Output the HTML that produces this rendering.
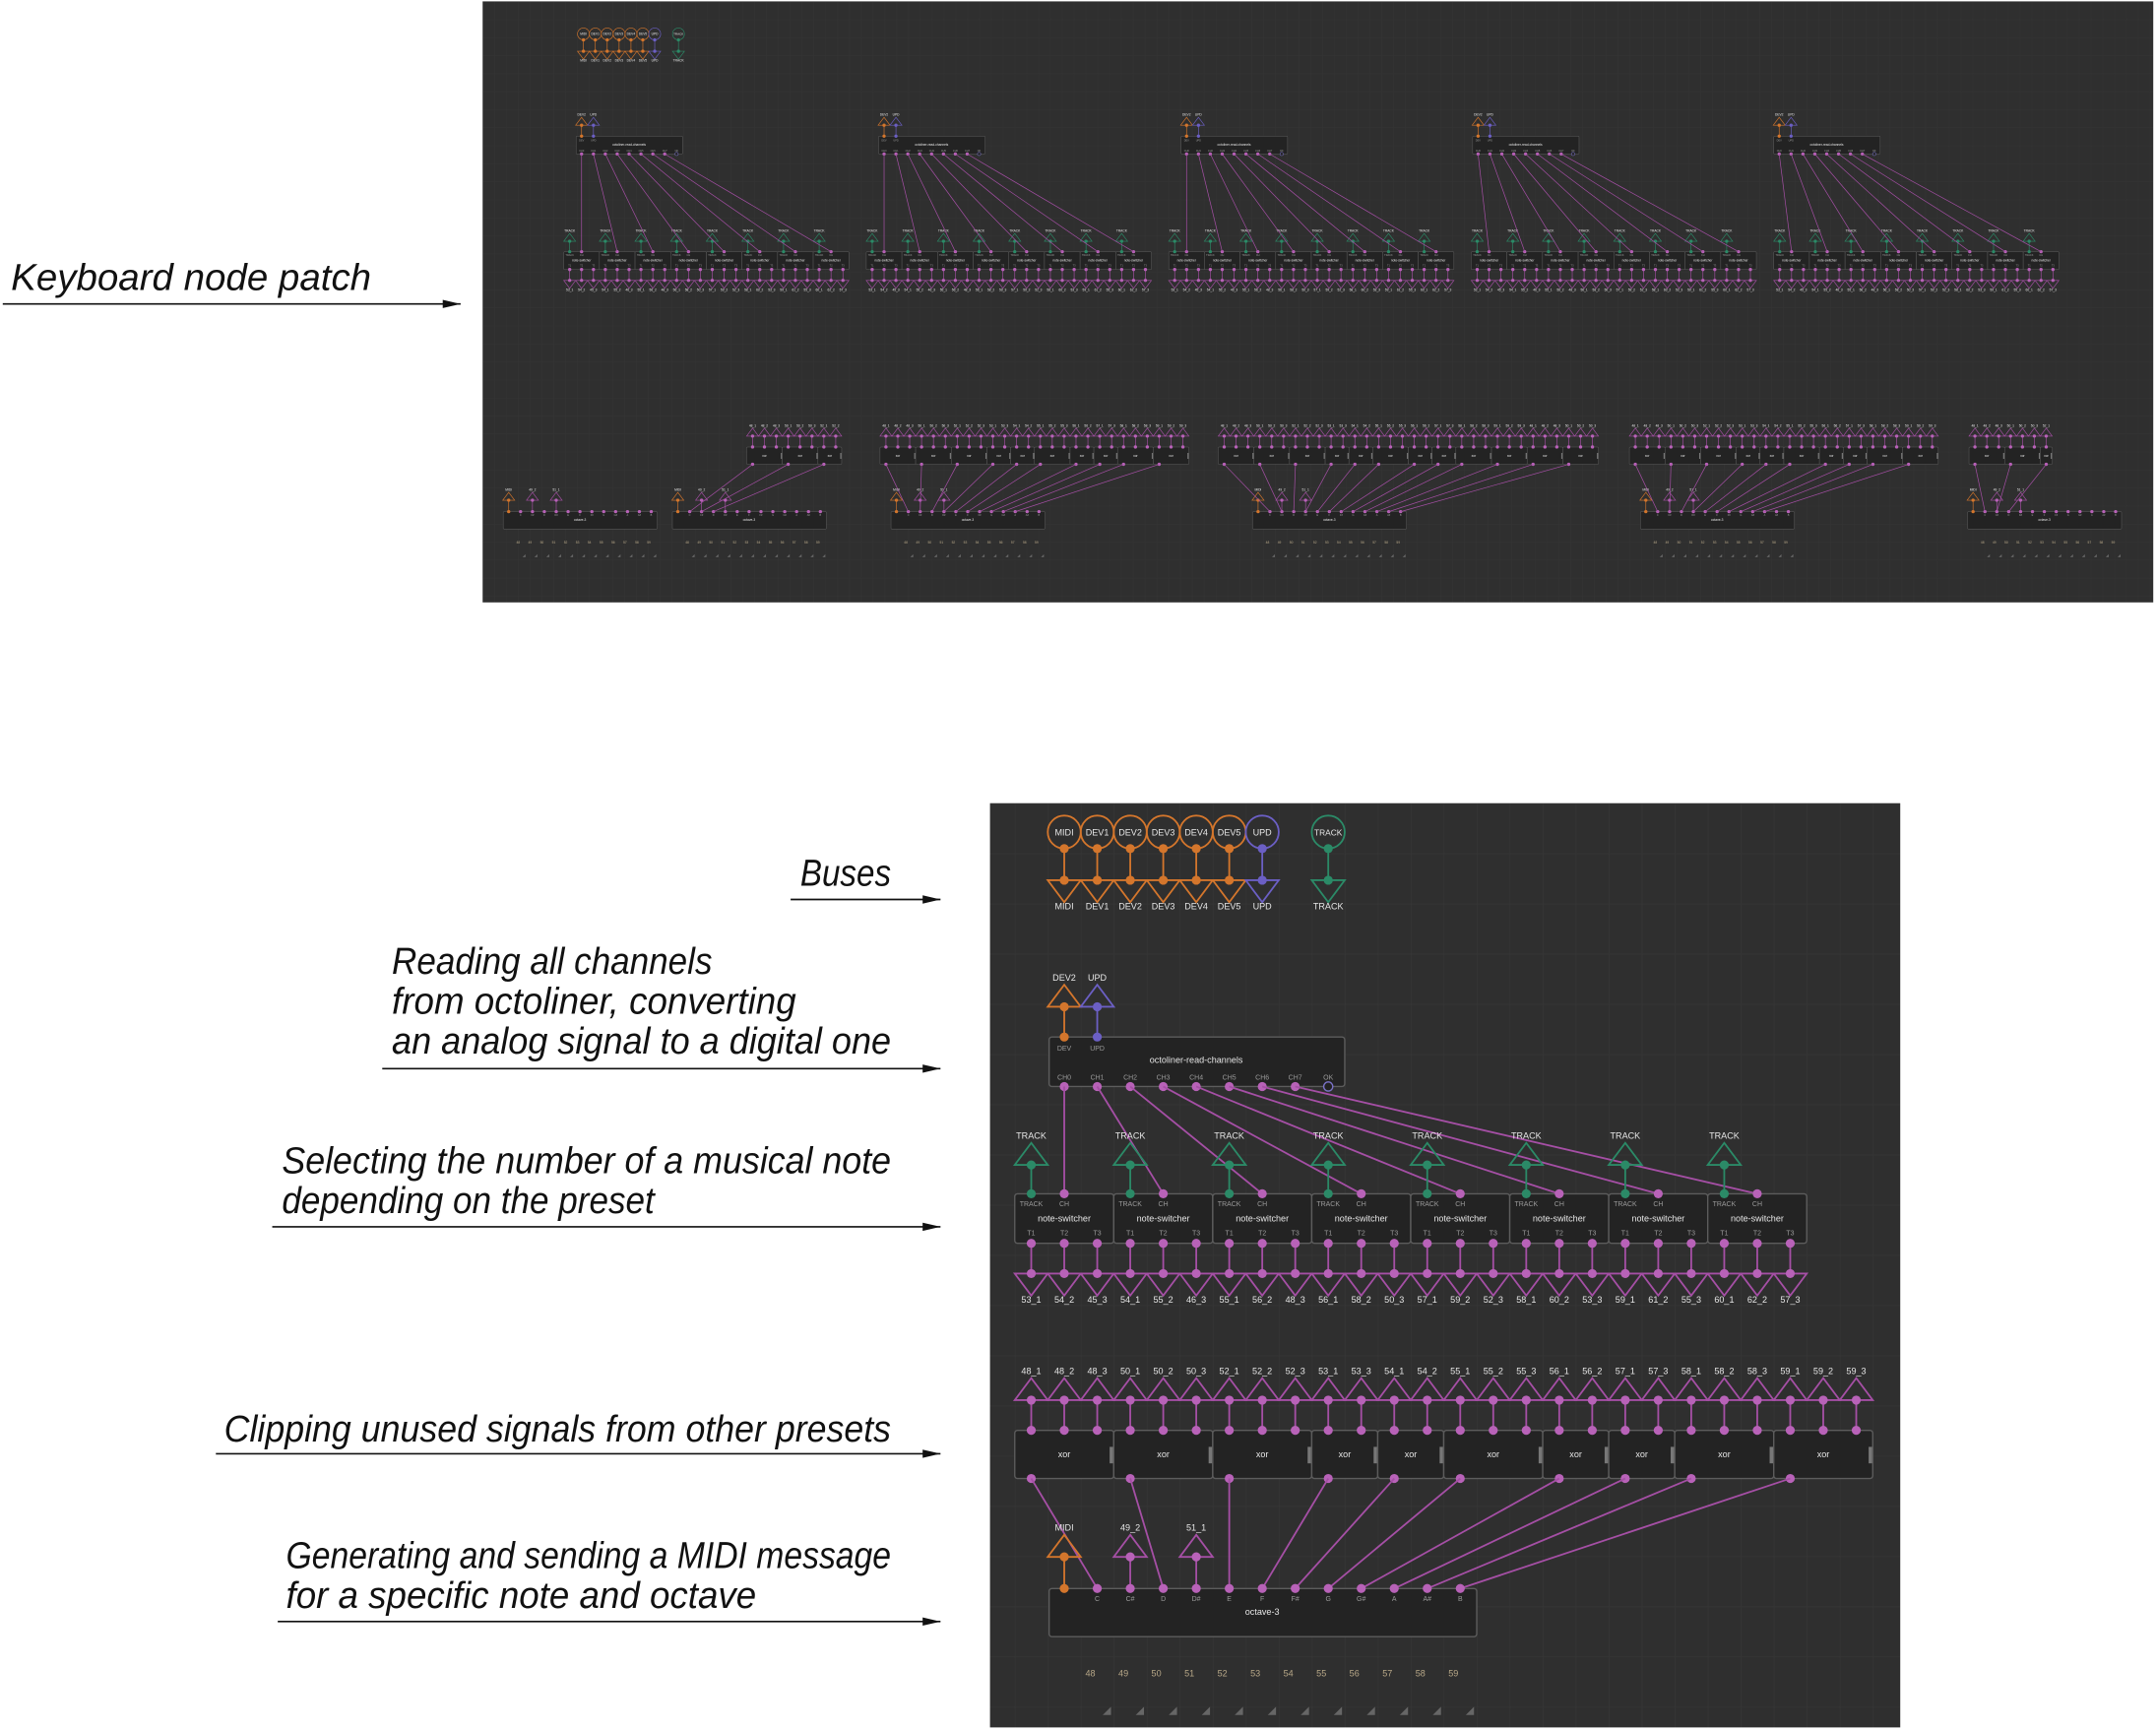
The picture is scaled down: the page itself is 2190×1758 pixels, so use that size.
<!DOCTYPE html>
<html><head><meta charset="utf-8"><style>
html,body{margin:0;padding:0;background:#fff;width:2190px;height:1758px;overflow:hidden}
svg{display:block}
.a{font-family:"Liberation Sans Narrow","Liberation Sans",sans-serif;font-style:italic;fill:#111;font-size:27px}
.n{font-family:"Liberation Sans",sans-serif}
</style></head><body>
<svg id="s" xmlns="http://www.w3.org/2000/svg" width="2190" height="1758" viewBox="0 0 1568 1258.6" preserveAspectRatio="none">
<defs>
<pattern id="g1" patternUnits="userSpaceOnUse" x="738" y="584" width="24" height="36.5"><rect width="24" height="36.5" fill="#2f2f2f"/><path d="M0 0V36.5M0 0H24" stroke="#363636" stroke-width="1"/></pattern>
<pattern id="g2" patternUnits="userSpaceOnUse" x="351" y="1" width="8.6" height="13.1"><rect width="8.6" height="13.1" fill="#2f2f2f"/><path d="M0 0V13.1M0 0H8.6" stroke="#353535" stroke-width="0.5"/></pattern>
</defs>
<rect x="351" y="1" width="1215" height="437" fill="url(#g2)"/>
<rect x="720" y="584" width="662" height="672" fill="url(#g1)"/>
<g id="d"></g>
<g>
<text class="a" x="8" y="211" textLength="262" lengthAdjust="spacingAndGlyphs">Keyboard node patch</text>
<text class="a" x="582" y="644" textLength="66" lengthAdjust="spacingAndGlyphs">Buses</text>
<text class="a" x="285" y="708" textLength="233" lengthAdjust="spacingAndGlyphs">Reading all channels</text>
<text class="a" x="285" y="737" textLength="294" lengthAdjust="spacingAndGlyphs">from octoliner, converting</text>
<text class="a" x="285" y="766" textLength="363" lengthAdjust="spacingAndGlyphs">an analog signal to a digital one</text>
<text class="a" x="205" y="853" textLength="443" lengthAdjust="spacingAndGlyphs">Selecting the number of a musical note</text>
<text class="a" x="205" y="882" textLength="271" lengthAdjust="spacingAndGlyphs">depending on the preset</text>
<text class="a" x="163" y="1048" textLength="485" lengthAdjust="spacingAndGlyphs">Clipping unused signals from other presets</text>
<text class="a" x="208" y="1140" textLength="440" lengthAdjust="spacingAndGlyphs">Generating and sending a MIDI message</text>
<text class="a" x="208" y="1169" textLength="342" lengthAdjust="spacingAndGlyphs">for a specific note and octave</text>
<g stroke="#111" stroke-width="1.2">
<line x1="2" y1="221" x2="335" y2="221"/><line x1="575" y1="654" x2="684" y2="654"/>
<line x1="278" y1="777" x2="684" y2="777"/><line x1="198" y1="892" x2="684" y2="892"/>
<line x1="157" y1="1057" x2="684" y2="1057"/><line x1="202" y1="1179" x2="684" y2="1179"/>
</g>
<g fill="#111">
<path d="M335 221l-13-3v6z"/><path d="M684 654l-13-3v6z"/><path d="M684 777l-13-3v6z"/>
<path d="M684 892l-13-3v6z"/><path d="M684 1057l-13-3v6z"/><path d="M684 1179l-13-3v6z"/>
</g>
</g>
</svg>
<script>
(function(){
var o=[];
var OR='#d4762c',PU='#6b5fc4',GR='#2b8a67',MG='#a54fa5',PM='#b862b8',WT='#e6e6e6',GY='#9a9a9a';
function M(ox,oy,bx,by,k){return {X:function(x){return +(ox+(x-bx)*k).toFixed(2)},Y:function(y){return +(oy+(y-by)*k).toFixed(2)},k:k};}
var I=M(0,0,0,0,1);
function ln(m,x1,y1,x2,y2,c,w){o.push('<line x1="'+m.X(x1)+'" y1="'+m.Y(y1)+'" x2="'+m.X(x2)+'" y2="'+m.Y(y2)+'" stroke="'+c+'" stroke-width="'+((w||1.3)*m.k)+'"/>');}
function pin(m,x,y,c,hollow){o.push('<circle cx="'+m.X(x)+'" cy="'+m.Y(y)+'" r="'+(3.3*m.k)+'" fill="'+(hollow?'#222':c)+'" stroke="'+c+'" stroke-width="'+(hollow?1*m.k:0)+'"/>');}
function circ(m,x,y,r,c){o.push('<circle cx="'+m.X(x)+'" cy="'+m.Y(y)+'" r="'+(r*m.k)+'" fill="none" stroke="'+c+'" stroke-width="'+(1.3*m.k)+'"/>');}
function poly(m,pts,c){var s=pts.map(function(p){return m.X(p[0])+','+m.Y(p[1])}).join(' ');o.push('<polygon points="'+s+'" fill="none" stroke="'+c+'" stroke-width="'+(1.3*m.k)+'"/>');}
function triD(m,x,t,c){poly(m,[[x-12,t],[x+12,t],[x,t+16]],c);}
function triU(m,x,b,c){poly(m,[[x-12,b],[x+12,b],[x,b-16]],c);}
function rect(m,x,y,w,h){o.push('<rect x="'+m.X(x)+'" y="'+m.Y(y)+'" width="'+(w*m.k)+'" height="'+(h*m.k)+'" rx="'+(2*m.k)+'" fill="#232323" stroke="#5c5c5c" stroke-width="'+(1*m.k)+'"/>');}
function tx(m,x,y,s,sz,f,an){o.push('<text class="n" x="'+m.X(x)+'" y="'+m.Y(y)+'" font-size="'+(sz*m.k)+'" fill="'+f+'" text-anchor="'+(an||'middle')+'">'+s+'</text>');}

function buses(m){
 var nm=['MIDI','DEV1','DEV2','DEV3','DEV4','DEV5','UPD'];
 nm.push('TRACK');
 for(var i=0;i<8;i++){var cx=i<7?774+24*i:966,c=i<6?OR:(i==6?PU:GR);
  circ(m,cx,605,12,c);tx(m,cx,607.5,nm[i],i==7?6:6.5,WT);
  ln(m,cx,617,cx,640,c);triD(m,cx,640,c);pin(m,cx,617,c);pin(m,cx,640,c);tx(m,cx,661,nm[i],6.5,WT);}
}
function octo(m){
 tx(m,774,713,'DEV2',6.5,WT);tx(m,798,713,'UPD',6.5,WT);
 triU(m,774,732,OR);triU(m,798,732,PU);ln(m,774,732,774,754,OR);ln(m,798,732,798,754,PU);
 pin(m,774,732,OR);pin(m,798,732,PU);
 rect(m,763,754,215,36);pin(m,774,754,OR);pin(m,798,754,PU);
 tx(m,774,764,'DEV',5,GY);tx(m,798,764,'UPD',5,GY);tx(m,870,773,'octoliner-read-channels',6.5,WT);
 for(var i=0;i<9;i++){var x=774+24*i;tx(m,x,785,i<8?'CH'+i:'OK',5,GY);pin(m,x,790,i<8?PM:'#7a72c8',i==8);}
}
var nsL=['53_1','54_2','45_3','54_1','55_2','46_3','55_1','56_2','48_3','56_1','58_2','50_3','57_1','59_2','52_3','58_1','60_2','53_3','59_1','61_2','55_3','60_1','62_2','57_3'];
function ns(m){
 for(var j=0;j<8;j++){var x0=738+72*j,cx=750+72*j;
  tx(m,cx,828,'TRACK',6.5,WT);triU(m,cx,847,GR);ln(m,cx,847,cx,868,GR);pin(m,cx,847,GR);
  rect(m,x0,868,72,36);pin(m,cx,868,GR);pin(m,x0+36,868,PM);
  tx(m,cx,877,'TRACK',5,GY);tx(m,x0+36,877,'CH',5,GY);tx(m,x0+36,888,'note-switcher',6.5,WT);
  for(var t=0;t<3;t++){tx(m,cx+24*t,898,'T'+(t+1),5,GY);}
 }
 for(var i=0;i<24;i++){var x=750+24*i;ln(m,x,904,x,926,MG);triD(m,x,926,MG);pin(m,x,904,PM);pin(m,x,926,PM);tx(m,x,947,nsL[i],6.5,WT);}
}
var xL=['48_1','48_2','48_3','50_1','50_2','50_3','52_1','52_2','52_3','53_1','53_3','54_1','54_2','55_1','55_2','55_3','56_1','56_2','57_1','57_3','58_1','58_2','58_3','59_1','59_2','59_3'];
var GP=[3,3,3,2,2,3,2,2,3,3];
function xorRow(m,n){
 var outs=[],p=0,g=0;
 while(p<n){var c=Math.min(GP[g%GP.length],n-p);var x0=738+24*p;rect(m,x0,1040,24*c,35);
  o.push('<rect x="'+m.X(x0+24*c-3)+'" y="'+m.Y(1052)+'" width="'+(2.5*m.k)+'" height="'+(12*m.k)+'" fill="#777"/>');
  tx(m,x0+12*c,1059.5,'xor',6.5,WT);outs.push(750+24*p);pin(m,750+24*p,1075,PM);p+=c;g++;}
 for(var i=0;i<n;i++){var x=750+24*i;tx(m,x,999,xL[i%26],6.5,WT);triU(m,x,1018,MG);ln(m,x,1018,x,1040,MG);pin(m,x,1018,PM);pin(m,x,1040,PM);}
 return outs;
}
var oN=['C','C#','D','D#','E','F','F#','G','G#','A','A#','B'];
function octave(m,lab){
 var tl=lab||['MIDI','49_2','51_1'];
 var tc=[774,822,870];
 for(var i=0;i<3;i++){var c=i?MG:OR;tx(m,tc[i],1113,tl[i],6.5,WT);triU(m,tc[i],1132,c);ln(m,tc[i],1132,tc[i],1155,c);pin(m,tc[i],1132,i?PM:OR);}
 rect(m,763,1155,311,35);pin(m,774,1155,OR);
 for(var i=0;i<12;i++){var x=798+24*i;pin(m,x,1155,PM);tx(m,x,1164,oN[i],5,GY);tx(m,x-5,1219,String(48+i),6.5,'#b8a888');
  o.push('<polygon points="'+m.X(x+4)+','+m.Y(1247)+' '+m.X(x+10)+','+m.Y(1247)+' '+m.X(x+10)+','+m.Y(1241)+'" fill="#666"/>');}
 tx(m,918,1174,'octave-3',6.5,WT);
}
/* ---------- bottom panel ---------- */
buses(I);octo(I);
for(var i=0;i<8;i++){ln(I,774+24*i,790,774+72*i,868,MG);}
ns(I);
var outs=xorRow(I,26);
var tgt=[798,846,894,918,942,966,990,1014,1038,1062];
for(var i=0;i<10;i++){ln(I,outs[i],1075,tgt[i],1155,MG);}
octave(I);
/* ---------- top panel ---------- */
var k=0.36;
buses(M(420,20,762,592,k));
var oX=[419,639,859,1071,1290],nX=[410,630,850,1070,1290];
for(var g=0;g<5;g++){
 var mo=M(oX[g],99,763,754,k),mn=M(nX[g],183,738,868,k);
 octo(mo);ns(mn);
 for(var i=0;i<8;i++){o.push('<line x1="'+mo.X(774+24*i)+'" y1="'+mo.Y(790)+'" x2="'+mn.X(774+72*i)+'" y2="'+mn.Y(868)+'" stroke="'+MG+'" stroke-width="0.5"/>');}
}
var rows=[[543,8],[640,26],[886,32],[1185,26],[1432,7]];
var octX=[366,489,648,911,1193,1431];
var octM=octX.map(function(x){return M(x,372,763,1155,k);});
octM.forEach(function(m){octave(m);});
var link=[1,2,3,4,5];
for(var r=0;r<rows.length;r++){
 var mx=M(rows[r][0],325,738,1040,k);var os=xorRow(mx,rows[r][1]);
 var om=octM[link[r]];
 for(var i=0;i<os.length;i++){var t=798+24*(i%12);
  o.push('<line x1="'+mx.X(os[i])+'" y1="'+mx.Y(1075)+'" x2="'+om.X(t)+'" y2="'+om.Y(1155)+'" stroke="'+MG+'" stroke-width="0.5"/>');}
}
document.getElementById('d').innerHTML=o.join('');
})();
</script>
</body></html>
